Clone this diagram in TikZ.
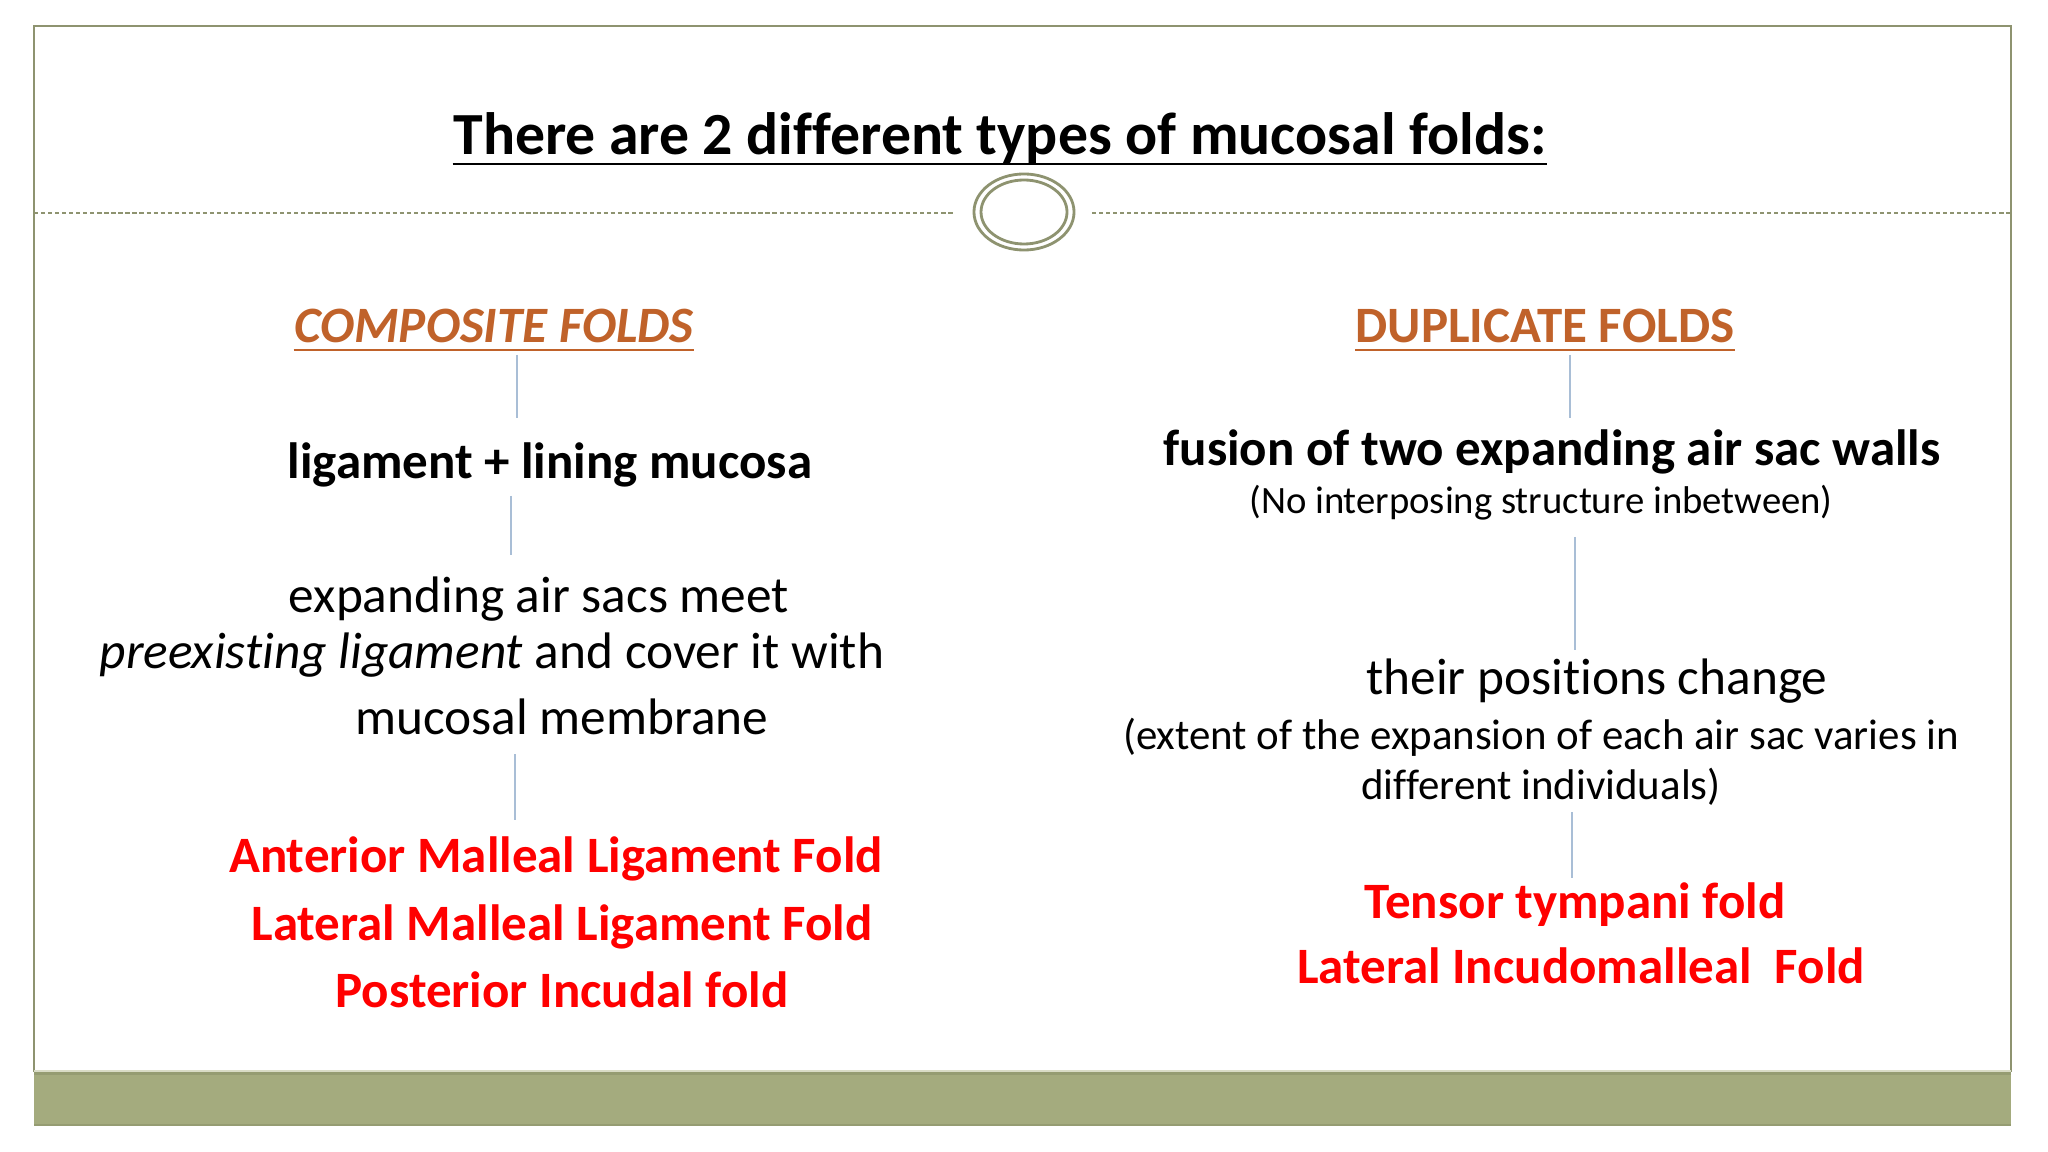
\documentclass[tikz,border=0pt]{standalone}
\usepackage{fontspec}
\setmainfont{Carlito}[RawFeature={-liga;-clig;-calt;-dlig}]
\usetikzlibrary{shapes.geometric}
\definecolor{framec}{HTML}{8E9370}
\definecolor{barc}{HTML}{A4AB7E}
\definecolor{barlight}{HTML}{D9DCC6}
\definecolor{bardark}{HTML}{959C72}
\definecolor{orng}{HTML}{C0622A}
\definecolor{vln}{HTML}{A9BED6}
\definecolor{redt}{HTML}{FF0000}
\begin{document}
\begin{tikzpicture}[x=0.01cm,y=-0.01cm,
  txt/.style={inner sep=0pt, anchor=base},
  ttl/.style={txt, font=\fontsize{17pt}{20pt}\selectfont\bfseries},
  hdr/.style={txt, text=orng, font=\fontsize{14.5pt}{17pt}\selectfont\bfseries},
  mainb/.style={txt, font=\fontsize{14.5pt}{17pt}\selectfont\bfseries},
  body/.style={txt, font=\fontsize{14.6pt}{17pt}\selectfont},
  smallt/.style={txt, font=\fontsize{11pt}{13pt}\selectfont},
  midt/.style={txt, font=\fontsize{12.2pt}{14pt}\selectfont},
  redf/.style={txt, text=redt, font=\fontsize{14.5pt}{17pt}\selectfont\bfseries},
  vline/.style={draw=vln, line width=0.5pt},
  ring/.style={draw=framec, line width=0.8pt},
  dashl/.style={draw=framec, line width=0.45pt, dash pattern=on 1.2pt off 0.8pt}]
\useasboundingbox (0,0) rectangle (2048,1152);
\fill[white] (0,0) rectangle (2048,1152);
% frame
\draw[framec, line width=0.45pt] (34,1072) -- (34,26) -- (2011,26) -- (2011,1072);
% bottom bar
\fill[barc] (34,1072) rectangle (2011,1126);
\draw[barlight, line width=0.6pt] (34,1071) -- (2011,1071);
\draw[bardark, line width=0.6pt] (34,1073.5) -- (2011,1073.5);
\draw[bardark, line width=0.6pt] (34,1125) -- (2011,1125);
% dashed separator
\coordinate (dl1) at (34,213);
\coordinate (dl2) at (953,213);
\coordinate (dr1) at (1092,213);
\coordinate (dr2) at (2011,213);
\draw[dashl] (dl1) -- (dl2);
\draw[dashl] (dr1) -- (dr2);
% ornament
\node[ring, ellipse, minimum width=1cm, minimum height=0.76cm, inner sep=0pt] (orn) at (1024,212) {};
\draw[ring] (orn.center) ellipse [x radius=43, y radius=32];
% title
\node[ttl] (title) at (1000,155) {There are 2 different types of mucosal folds:};
\draw[line width=0.85pt] ([yshift=-0.09cm]title.base west) -- ([yshift=-0.09cm]title.base east);
% left column
\node[hdr, font=\fontsize{14.5pt}{17pt}\selectfont\bfseries\itshape] (comp) at (494,343) {COMPOSITE FOLDS};
\draw[orng, line width=0.85pt] ([yshift=-0.07cm]comp.base west) -- ([yshift=-0.07cm]comp.base east);
\node[mainb] (lig) at (550,479) {ligament + lining mucosa};
\node[body] (exp1) at (539,613) {expanding air sacs meet};
\node[body] (exp2) at (492,668) {\textit{preexisting ligament} and cover it with};
\node[body] (exp3) at (562,735) {mucosal membrane};
\node[redf] (r1) at (556,872) {Anterior Malleal Ligament Fold};
\node[redf] (r2) at (562,940) {Lateral Malleal Ligament Fold};
\node[redf] (r3) at (562,1007) {Posterior Incudal fold};
\coordinate (a1) at (517,355); \coordinate (a2) at (517,418);
\coordinate (b1) at (511,496); \coordinate (b2) at (511,555);
\coordinate (c1) at (515,754); \coordinate (c2) at (515,820);
\draw[vline] (a1) -- (a2);
\draw[vline] (b1) -- (b2);
\draw[vline] (c1) -- (c2);
% right column
\node[hdr] (dup) at (1545,343) {DUPLICATE FOLDS};
\draw[orng, line width=0.85pt] ([yshift=-0.07cm]dup.base west) -- ([yshift=-0.07cm]dup.base east);
\node[mainb] (fus) at (1552,466) {fusion of two expanding air sac walls};
\node[smallt] (nointer) at (1541,514) {(No interposing structure inbetween)};
\node[body] (pos) at (1597,694) {their positions change};
\node[midt] (ext1) at (1541,749) {(extent of the expansion of each air sac varies in};
\node[midt] (ext2) at (1541,799) {different individuals)};
\node[redf] (t1) at (1575,918) {Tensor tympani fold};
\node[redf] (t2) at (1581,983) {Lateral Incudomalleal\ \ Fold};
\coordinate (d1) at (1570,355); \coordinate (d2) at (1570,418);
\coordinate (e1) at (1575,537); \coordinate (e2) at (1575,650);
\coordinate (f1) at (1572,812); \coordinate (f2) at (1572,878);
\draw[vline] (d1) -- (d2);
\draw[vline] (e1) -- (e2);
\draw[vline] (f1) -- (f2);
\end{tikzpicture}
\end{document}
